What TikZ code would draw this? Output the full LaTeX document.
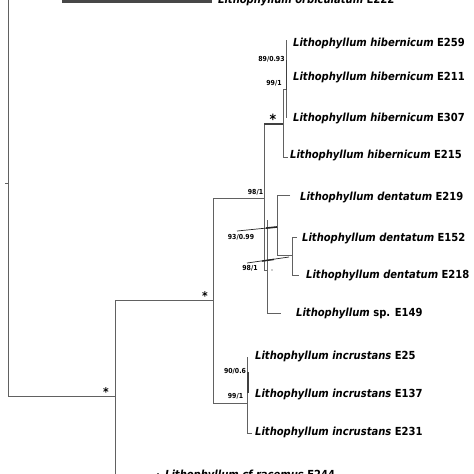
\documentclass[tikz,border=0pt]{standalone}
\usepackage{fontspec}
\setmainfont{DejaVu Sans Condensed}
\begin{document}
\begin{tikzpicture}[x=1pt,y=-1pt,
  br/.style={draw=black!62, line width=0.8pt},
  thickbr/.style={draw=black!75, line width=1.4pt},
  ptr/.style={draw=black!85, line width=0.7pt},
  lf/.style={anchor=west, inner sep=0pt, font=\bfseries\fontsize{11.1}{12}\selectfont},
  bs/.style={inner sep=0pt, font=\bfseries\fontsize{6.9}{7}\selectfont},
  ast/.style={inner sep=0pt, font=\bfseries\fontsize{14}{14}\selectfont}]
\useasboundingbox (0,0) rectangle (474,474);
\fill[white] (0,0) rectangle (474,474);
% leaves
\node[lf] (e222) at (218,0) {\textit{Lithophyllum orbiculatum} E222};
\node[lf] (e259) at (293,43) {\textit{Lithophyllum hibernicum} E259};
\node[lf] (e211) at (293,77) {\textit{Lithophyllum hibernicum} E211};
\node[lf] (e307) at (293,118) {\textit{Lithophyllum hibernicum} E307};
\node[lf] (e215) at (290,155) {\textit{Lithophyllum hibernicum} E215};
\node[lf] (e219) at (300,197) {\textit{Lithophyllum dentatum} E219};
\node[lf] (e152) at (302,238) {\textit{Lithophyllum dentatum} E152};
\node[lf] (e218) at (306,275) {\textit{Lithophyllum dentatum} E218};
\node[lf] (e149) at (296,313) {\textit{Lithophyllum} sp. E149};
\node[lf] (e25) at (255,356) {\textit{Lithophyllum incrustans} E25};
\node[lf] (e137) at (255,394) {\textit{Lithophyllum incrustans} E137};
\node[lf] (e231) at (255,432) {\textit{Lithophyllum incrustans} E231};
\node[lf] (e244) at (165,475) {\textit{Lithophyllum cf racemus} E244};
% internal coordinates
\coordinate (r0) at (8,-4);
\coordinate (r1) at (8,396);
\coordinate (nA) at (115,396);
\coordinate (nAt) at (115,300);
\coordinate (nAb) at (115,480);
\coordinate (nB) at (213,300);
\coordinate (nBt) at (213,198);
\coordinate (nBb) at (213,403);
\coordinate (nBr) at (264,198);
\coordinate (nC) at (264,124);
\coordinate (nCb) at (264,270);
\coordinate (nCe) at (267,270);
\coordinate (nH) at (283,124);
\coordinate (nHt) at (283,89);
\coordinate (nHb) at (283,157);
\coordinate (nHe) at (288,157);
\coordinate (nH2) at (286,89);
\coordinate (nH2t) at (286,40);
\coordinate (nH2b) at (286,118);
\coordinate (nS) at (267,220);
\coordinate (nSb) at (267,313);
\coordinate (nSe) at (281,313);
\coordinate (nD) at (277,195);
\coordinate (nDb) at (277,255);
\coordinate (nDe) at (290,195);
\coordinate (nE) at (292,255);
\coordinate (nEt) at (292,237);
\coordinate (nEb) at (292,275);
\coordinate (nEte) at (297,237);
\coordinate (nEbe) at (299,275);
\coordinate (nI0) at (247,403);
\coordinate (nIt) at (247,357);
\coordinate (nIb) at (247,433);
\coordinate (nIe) at (252,433);
% branches
\draw[br] (r0) -- (r1) -- (nA);
\draw[br, line width=0.5pt] (5,183) -- (8,183);
\draw[br] (nAt) -- (nAb);
\draw[br] (nAt) -- (nB);
\draw[br] (nBt) -- (nBb);
\draw[br] (nBt) -- (nBr);
\draw[br] (nBb) -- (nI0);
\draw[br] (nC) -- (nCb) -- (nCe);
\draw[thickbr] (nC) -- (nH);
\draw[br] (nHt) -- (nHb) -- (nHe);
\draw[br] (nHt) -- (nH2);
\draw[br] (nH2t) -- (nH2b);
\draw[thickbr, line width=1.2pt] (286.5,60) -- (286.5,90);
\draw[br] (nS) -- (nSb) -- (nSe);
\draw[br] (nDe) -- (nD) -- (nDb) -- (nE);
\draw[br] (nEte) -- (nEt) -- (nEb) -- (nEbe);
\draw[br] (nIt) -- (nIb) -- (nIe);
\draw[thickbr, line width=1.1pt] (248,372) -- (248,393);
\draw[line width=3pt, draw=black!72] (62,1) -- (212,1);
\draw[br, line width=0.5pt] (157,473) -- (159,473);
% pointer lines
\coordinate (p1s) at (237,231);
\coordinate (p1e) at (277,227);
\coordinate (p2s) at (247,263);
\coordinate (p2e) at (289,257);
\draw[ptr] (p1s) -- (p1e);
\draw[ptr, line width=1.6pt] (266,228.1) -- (p1e);
\draw[ptr] (p2s) -- (p2e);
\draw[ptr, line width=1.4pt] (262,261.1) -- (274,259.4);
\fill[black!80] (272,270) circle (0.6pt);
% support labels
\node[bs] (s1) at (271.5,59.5) {89/0.93};
\node[bs] (s2) at (274,83.5) {99/1};
\node[bs] (s3) at (255.5,192) {98/1};
\node[bs] (s4) at (241,237.5) {93/0.99};
\node[bs] (s5) at (250,268) {98/1};
\node[bs] (s6) at (235,371.5) {90/0.6};
\node[bs] (s7) at (235.5,396.5) {99/1};
\node[ast] (a1) at (273,119) {*};
\node[ast, font=\bfseries\fontsize{12}{12}\selectfont] (a2) at (205,296) {*};
\node[ast, font=\bfseries\fontsize{12}{12}\selectfont] (a3) at (106,392) {*};
\end{tikzpicture}
\end{document}
